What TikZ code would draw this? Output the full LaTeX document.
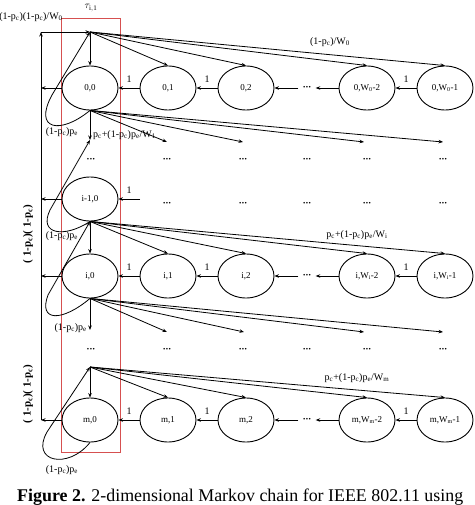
\documentclass[tikz,border=0pt]{standalone}
\usepackage{fontspec}
\setmainfont{Liberation Serif}
\usetikzlibrary{shapes.geometric,arrows.meta}
\definecolor{redbox}{RGB}{214,80,80}
\newcommand{\mydots}{\textbf{\char"00B7\kern-0.5pt\char"00B7\kern-0.5pt\char"00B7}}
\begin{document}
\begin{tikzpicture}[x=1pt,y=-1pt,
 st/.style={ellipse,draw,line width=0.9pt,minimum width=56pt,minimum height=44pt,inner sep=0pt,font=\fontsize{9}{10}\selectfont},
 ar/.style={-{Stealth[length=4.5pt,width=3.5pt]},line width=0.8pt},
 lab/.style={font=\fontsize{10}{11}\selectfont,inner sep=0pt},
 dts/.style={font=\fontsize{10}{11}\selectfont,inner sep=4pt},
 vlab/.style={font=\bfseries\fontsize{11}{12}\selectfont,inner sep=0pt,rotate=90}]
\useasboundingbox (0,0) rectangle (474,505);

% red box
\draw[redbox,line width=0.9pt] (61,18) rectangle (120,452);

% top labels
\node[lab] (tau) at (91,8) {$\tau_{\mathrm{i,1}}$};
\node[lab] (topl) at (31,17) {(1-p\textsubscript{c})(1-p\textsubscript{c})/W\textsubscript{0}};

% coordinates
\coordinate (T0) at (90,32);
\coordinate (LT) at (41,32);
\coordinate (LB) at (41,420);

% row 0
\node[st] (n00) at (90,88) {0,0};
\node[st] (n01) at (168,88) {0,1};
\node[st] (n02) at (246,88) {0,2};
\node[dts] (d0) at (307,88) {\mydots};
\node[st] (n0a) at (367,88) {0,W\textsubscript{0}-2};
\node[st] (n0b) at (445,88) {0,W\textsubscript{0}-1};

% row i-1
\node[st] (im) at (90,199) {i-1,0};
\coordinate (r1) at (140,199);

% row i
\node[st] (ni0) at (90,276) {i,0};
\node[st] (ni1) at (168,276) {i,1};
\node[st] (ni2) at (246,276) {i,2};
\node[dts] (di) at (307,276) {\mydots};
\node[st] (nia) at (367,276) {i,W\textsubscript{i}-2};
\node[st] (nib) at (445,276) {i,W\textsubscript{i}-1};

% row m
\node[st] (nm0) at (90,420) {m,0};
\node[st] (nm1) at (168,420) {m,1};
\node[st] (nm2) at (246,420) {m,2};
\node[dts] (dm) at (307,420) {\mydots};
\node[st] (nma) at (367,420) {m,W\textsubscript{m}-2};
\node[st] (nmb) at (445,420) {m,W\textsubscript{m}-1};

% dots rows
\foreach \x/\n in {91/a,167/b,243/c,307/d,367/e,443/f}{
  \node[lab] (da\n) at (\x,160) {\mydots};
  \node[lab] (dc\n) at (\x,350) {\mydots};
}
\foreach \x/\n in {167/b,243/c,307/d,367/e,443/f}{
  \node[lab] (db\n) at (\x,204) {\mydots};
}

% left feedback line
\draw[ar] (LB) -- (LT);
\draw[ar] (LT) -- (T0);
\draw[ar] (n00.west) -- (n00.west -| LT);
\draw[ar] (im.west) -- (im.west -| LT);
\draw[ar] (ni0.west) -- (ni0.west -| LT);
\draw[ar] (nm0.west) -- (nm0.west -| LT);
\node[vlab] (v1) at (28,234) {( 1-p\textsubscript{c})( 1-p\textsubscript{c})};
\node[vlab] (v2) at (28,394) {( 1-p\textsubscript{c})( 1-p\textsubscript{c})};

% horizontal row arrows
\draw[ar] (n01.west) -- (n00.east) node[midway,above=5pt,lab]{1};
\draw[ar] (n02.west) -- (n01.east) node[midway,above=5pt,lab]{1};
\draw[ar] (d0.west) -- (n02.east);
\draw[ar] (n0a.west) -- (d0.east);
\draw[ar] (n0b.west) -- (n0a.east) node[midway,above=5pt,lab]{1};
\draw[ar] (r1) -- (im.east) node[midway,above=5pt,lab]{1};
\draw[ar] (ni1.west) -- (ni0.east) node[midway,above=5pt,lab]{1};
\draw[ar] (ni2.west) -- (ni1.east) node[midway,above=5pt,lab]{1};
\draw[ar] (di.west) -- (ni2.east);
\draw[ar] (nia.west) -- (di.east);
\draw[ar] (nib.west) -- (nia.east) node[midway,above=5pt,lab]{1};
\draw[ar] (nm1.west) -- (nm0.east) node[midway,above=5pt,lab]{1};
\draw[ar] (nm2.west) -- (nm1.east) node[midway,above=5pt,lab]{1};
\draw[ar] (dm.west) -- (nm2.east);
\draw[ar] (nma.west) -- (dm.east);
\draw[ar] (nmb.west) -- (nma.east) node[midway,above=5pt,lab]{1};

% fan from top point to row 0
\draw[ar] (T0) -- (n00.north);
\draw[ar] (T0) -- (n01.north);
\draw[ar] (T0) -- (n02.north);
\draw[ar] (T0) -- (n0a.north);
\draw[ar] (T0) -- (n0b.north);
\node[lab] (l0) at (330,42) {(1-p\textsubscript{c})/W\textsubscript{0}};

% fan below row 0
\coordinate (d1) at (90,140);
\coordinate (f1a) at (167,142);
\coordinate (f1b) at (243,142);
\coordinate (f1c) at (364,142);
\coordinate (f1d) at (443,142);
\draw[ar] (n00.south) -- (d1);
\draw[ar] (n00.south) -- (f1a);
\draw[ar] (n00.south) -- (f1b);
\draw[ar] (n00.south) -- (f1c);
\draw[ar] (n00.south) -- (f1d);
\node[lab,anchor=west] (l1) at (93,135) {p\textsubscript{c}+(1-p\textsubscript{c})p\textsubscript{e}/W\textsubscript{1}};
\node[lab] (l1b) at (62,132) {(1-p\textsubscript{c})p\textsubscript{e}};

% fan below i-1 to row i
\draw[ar] (im.south) -- (ni0.north);
\draw[ar] (im.south) -- (ni1.north);
\draw[ar] (im.south) -- (ni2.north);
\draw[ar] (im.south) -- (nia.north);
\draw[ar] (im.south) -- (nib.north);
\node[lab] (l2) at (357,235) {p\textsubscript{c}+(1-p\textsubscript{c})p\textsubscript{e}/W\textsubscript{i}};
\node[lab] (l2b) at (62,236) {(1-p\textsubscript{c})p\textsubscript{e}};

% fan below row i
\coordinate (d3) at (90,330);
\coordinate (f3a) at (167,332);
\coordinate (f3b) at (244,332);
\coordinate (f3c) at (364,332);
\coordinate (f3d) at (443,332);
\draw[ar] (ni0.south) -- (d3);
\draw[ar] (ni0.south) -- (f3a);
\draw[ar] (ni0.south) -- (f3b);
\draw[ar] (ni0.south) -- (f3c);
\draw[ar] (ni0.south) -- (f3d);
\node[lab,anchor=east] (l3b) at (87,328) {(1-p\textsubscript{c})p\textsubscript{e}};

% fan to row m
\coordinate (P3) at (90,367);
\draw[ar] (P3) -- (nm0.north);
\draw[ar] (P3) -- (nm1.north);
\draw[ar] (P3) -- (nm2.north);
\draw[ar] (P3) -- (nma.north);
\draw[ar] (P3) -- (nmb.north);
\node[lab] (l4) at (357,378) {p\textsubscript{c}+(1-p\textsubscript{c})p\textsubscript{e}/W\textsubscript{m}};
\node[lab] (l4b) at (62,470) {(1-p\textsubscript{c})p\textsubscript{e}};

% loops
\draw[ar] (n00.south) .. controls (60,135) and (33,130) .. (52,95) -- (T0);
\draw[ar] (im.south) .. controls (65,238) and (38,235) .. (50,210) -- (d1);
\draw[ar] (ni0.south) .. controls (62,322) and (38,322) .. (48,295) -- (im.south);
\draw[ar] (nm0.south) .. controls (68,470) and (30,462) .. (47,432) -- (P3);

% caption
\node[anchor=base west,inner sep=0pt] (cap) at (17,501) {\resizebox{446pt}{!}{\textbf{Figure 2.} 2-dimensional Markov chain for IEEE 802.11 using}};
\end{tikzpicture}
\end{document}
